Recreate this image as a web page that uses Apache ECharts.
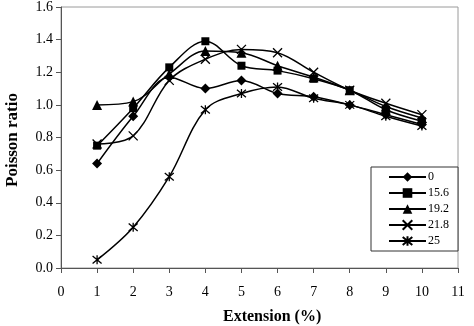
<!DOCTYPE html>
<html>
<head>
<meta charset="utf-8">
<script src="https://cdn.jsdelivr.net/npm/echarts@6/dist/echarts.min.js"></script>
<style>
  html, body { margin: 0; padding: 0; background: #fff; }
  #chart { width: 474px; height: 326px; }
</style>
</head>
<body>
<div id="chart"></div>
<script>
// Extension (%) at which each Poisson ratio was measured
const extension = [1, 2, 3, 4, 5, 6, 7, 8, 9, 10];

// Poisson ratio per sample
const s0    = [0.64, 0.93, 1.17, 1.10, 1.15, 1.07, 1.05, 1.00, 0.94, 0.88];
const s15_6 = [0.75, 0.98, 1.23, 1.39, 1.24, 1.21, 1.16, 1.09, 0.97, 0.90];
const s19_2 = [1.00, 1.02, 1.19, 1.33, 1.32, 1.24, 1.17, 1.09, 0.99, 0.92];
const s21_8 = [0.76, 0.81, 1.15, 1.28, 1.34, 1.32, 1.20, 1.09, 1.01, 0.94];
const s25   = [0.05, 0.25, 0.56, 0.97, 1.07, 1.11, 1.04, 1.00, 0.93, 0.87];

const seriesNames = ['0', '15.6', '19.2', '21.8', '25'];
const seriesData = [s0, s15_6, s19_2, s21_8, s25];

const xTicks = { min: 0, max: 11, interval: 1 };
const yTicks = { min: 0, max: 1.6, interval: 0.2 };

const FONT = '"Liberation Serif", "DejaVu Serif", serif';

const symbols = [
  { symbol: 'diamond', size: 10, stroke: 0 },
  { symbol: 'rect', size: 8, stroke: 0 },
  { symbol: 'triangle', size: 10, stroke: 0 },
  { symbol: 'path://M0,0 L10,10 M10,0 L0,10', size: 9, stroke: 1.3 },
  { symbol: 'path://M0,0 L10,10 M10,0 L0,10 M5,-1 L5,11', size: 9, stroke: 1.3 }
];

const chart = echarts.init(document.getElementById('chart'), null, { renderer: 'canvas' });

chart.setOption({
  animation: false,
  backgroundColor: '#fff',
  grid: {
    left: 61, right: 16, top: 5, bottom: 58,
    show: true, borderColor: '#9a9a9a', borderWidth: 1
  },
  xAxis: {
    type: 'value',
    min: xTicks.min, max: xTicks.max, interval: xTicks.interval,
    axisLine: { lineStyle: { color: '#555', width: 1 } },
    axisTick: { show: true, length: 5, lineStyle: { color: '#555' } },
    axisLabel: { color: '#000', fontFamily: FONT, fontSize: 14, margin: 17 },
    splitLine: { show: false }
  },
  yAxis: {
    type: 'value',
    min: yTicks.min, max: yTicks.max, interval: yTicks.interval,
    axisLine: { show: true, lineStyle: { color: '#555', width: 1 } },
    axisTick: { show: true, length: 5, lineStyle: { color: '#555' } },
    axisLabel: {
      color: '#000', fontFamily: FONT, fontSize: 14, margin: 8,
      formatter: v => v.toFixed(1)
    },
    splitLine: { show: false }
  },
  legend: {
    right: 16, top: 167,
    orient: 'vertical',
    backgroundColor: '#fff',
    borderColor: '#333', borderWidth: 1,
    padding: [4, 9, 4, 17],
    itemGap: 4,
    itemWidth: 37, itemHeight: 12,
    textStyle: { color: '#000', fontFamily: FONT, fontSize: 12, padding: [0, 0, 0, -3] },
    data: seriesNames
  },
  graphic: [
    {
      type: 'text', left: 223, top: 309,
      style: { text: 'Extension (%)', font: 'bold 16px ' + FONT, fill: '#000' }
    },
    {
      type: 'text', left: 4, top: 93, rotation: Math.PI / 2,
      style: { text: 'Poisson ratio', font: 'bold 17px ' + FONT, fill: '#000' }
    }
  ],
  series: seriesData.map((vals, i) => ({
    name: seriesNames[i],
    type: 'line',
    smooth: 0.35,
    data: extension.map((x, j) => [x, vals[j]]),
    symbol: symbols[i].symbol,
    symbolSize: symbols[i].size,
    showAllSymbol: true,
    lineStyle: { color: '#000', width: 1.5 },
    itemStyle: {
      color: '#000',
      borderColor: '#000',
      borderWidth: symbols[i].stroke
    },
    emphasis: { disabled: true }
  }))
});
</script>
</body>
</html>
